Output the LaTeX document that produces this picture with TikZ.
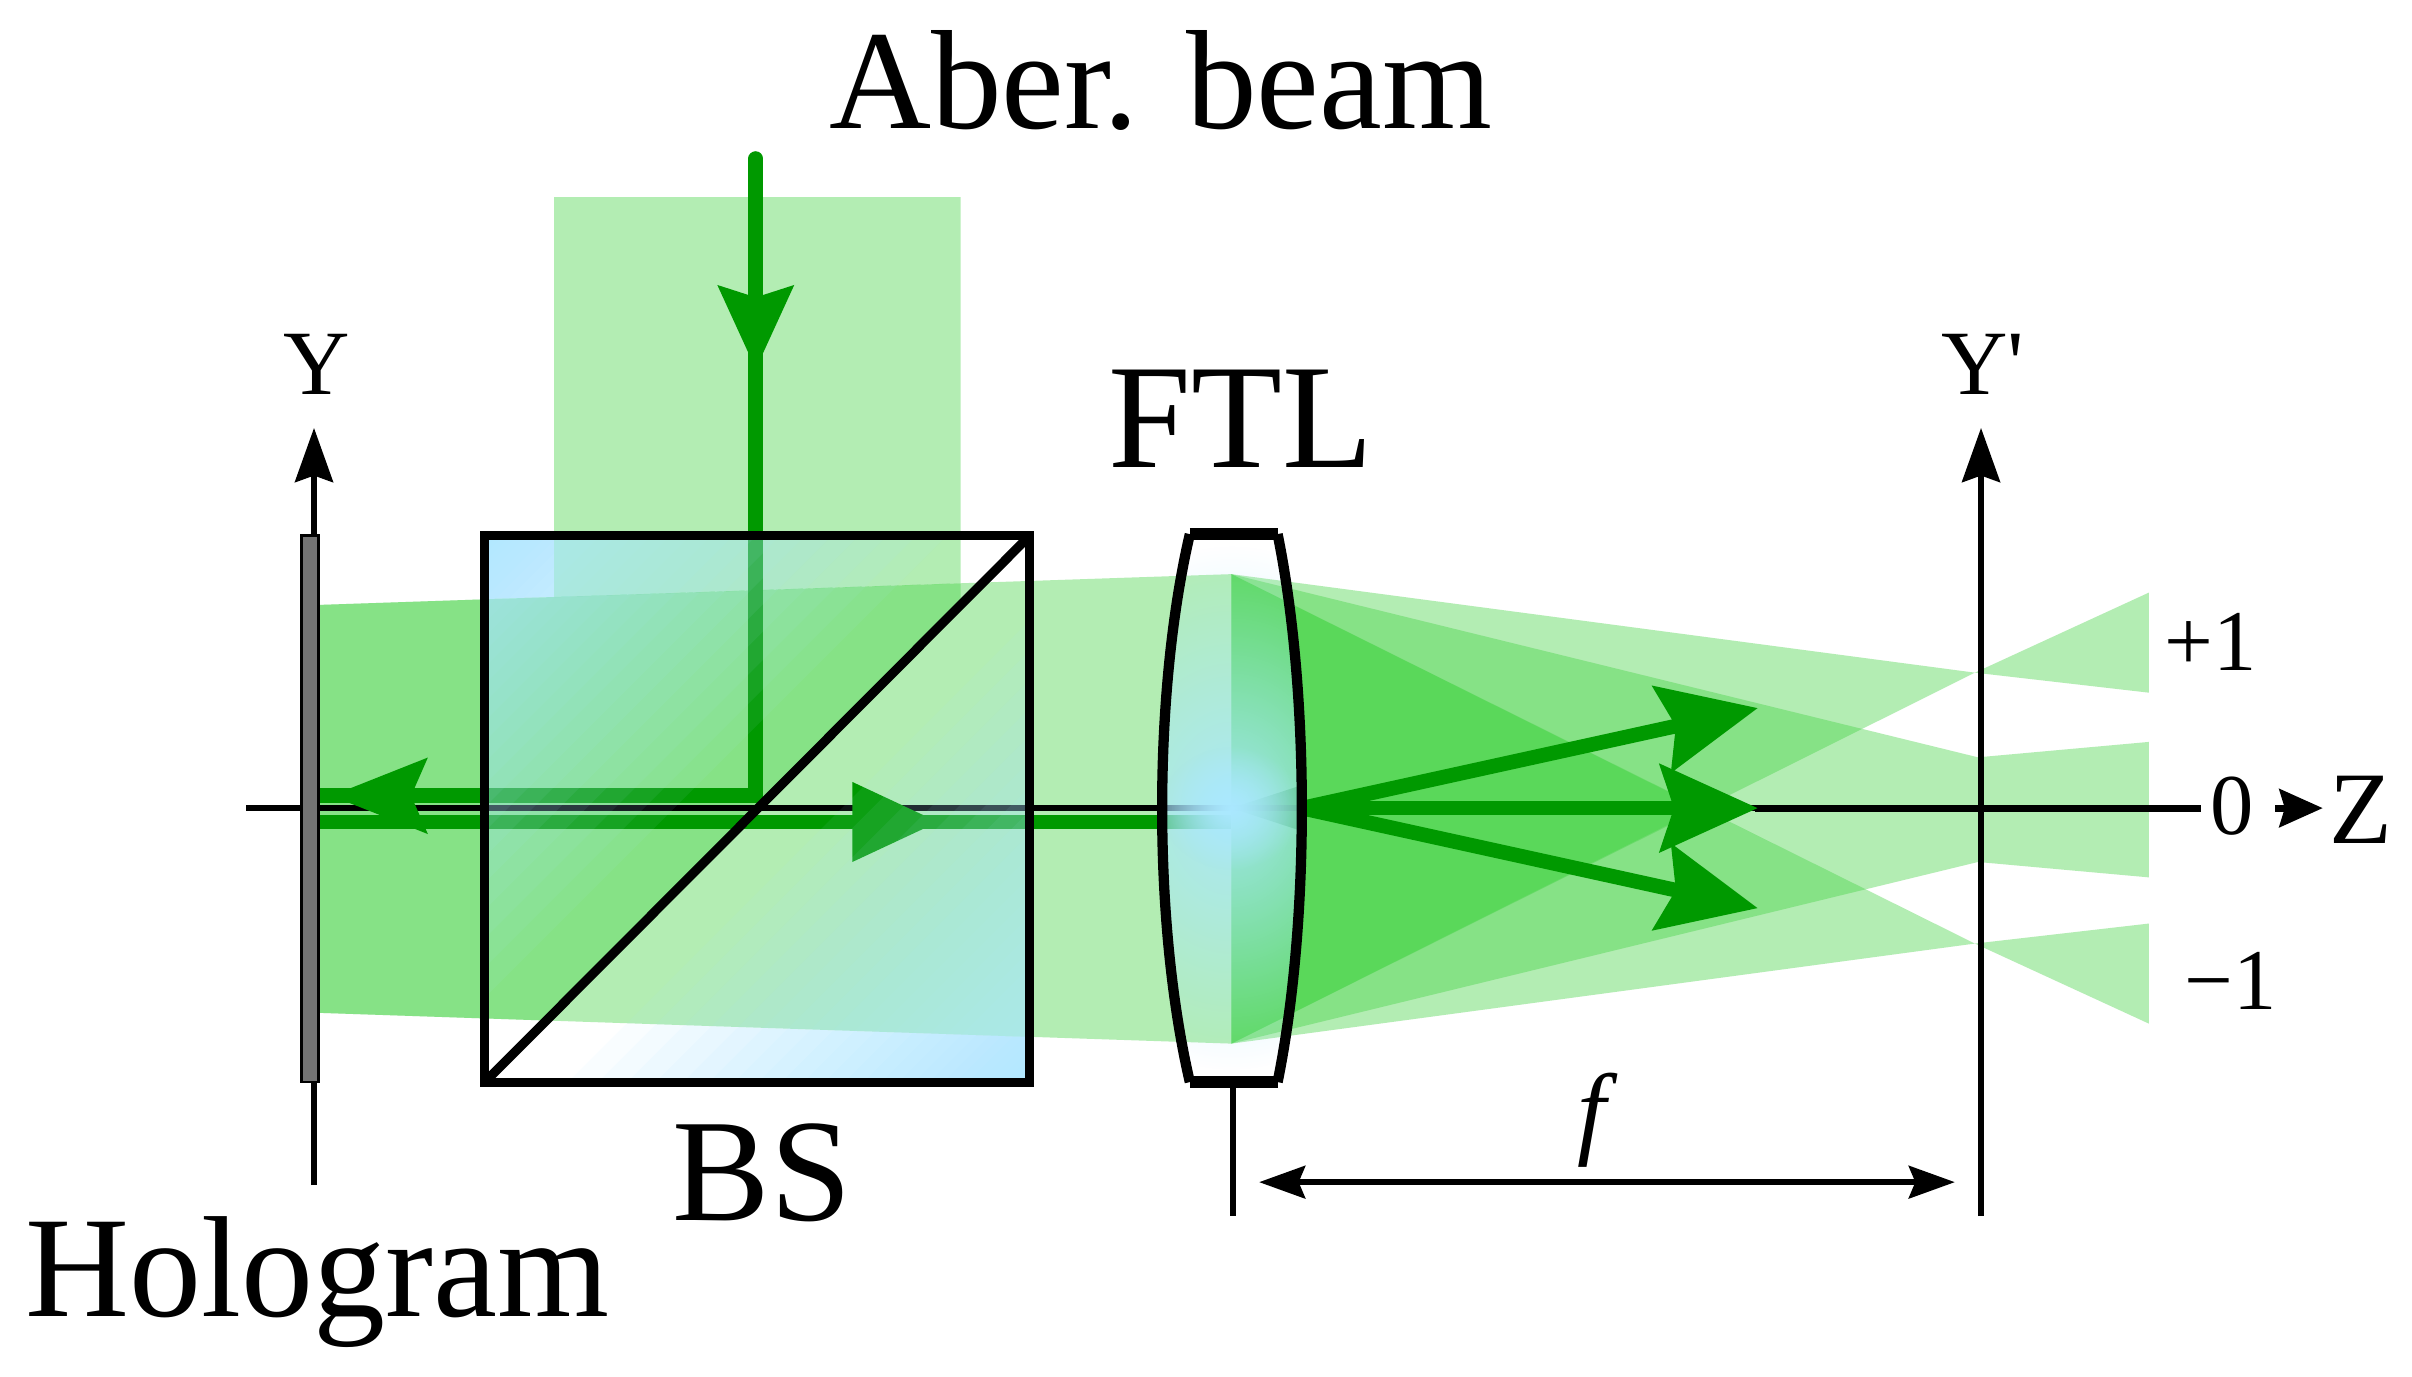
\documentclass[tikz,border=0pt]{standalone}
\usepackage{fontspec}
\setmainfont{Liberation Serif}[Ligatures=TeXOff]
\usetikzlibrary{arrows.meta,fadings}
\definecolor{bm}{RGB}{67,210,67}
\definecolor{core}{RGB}{40,210,40}
\definecolor{gl}{RGB}{0,153,0}
\definecolor{lb}{RGB}{170,232,255}
\tikzfading[name=glowfade,inner color=transparent!0,outer color=transparent!100]
\tikzfading[name=glassfade,inner color=transparent!10,outer color=transparent!100]
\tikzset{
  beam/.style={fill=bm,fill opacity=0.4,draw=none},
  glass/.style={fill=lb,fill opacity=0.07,draw=none},
  gline/.style={draw=gl,line width=2.7pt},
  garrow/.style={gline,-{Stealth[length=18pt,width=16pt,inset=2.5pt]}},
  axisline/.style={draw=black,line width=1.1pt},
  axisarrow/.style={axisline,-{Stealth[length=10pt,width=7pt,inset=1.2pt]}},
  solid box/.style={draw=black,line width=1.7pt,line join=miter},
  lbl/.style={inner sep=0pt,text=black,font=\fontsize{#1}{#1}\selectfont},
  lens outline/.style={draw=black,line width=1.9pt},
}
\begin{document}
\begin{tikzpicture}[x=0.01cm,y=-0.01cm]
\useasboundingbox (0,0) rectangle (1567,894);
\fill[white] (0,0) rectangle (1567,894);
% named points
\coordinate (cubeTL) at (315,348);
\coordinate (cubeTR) at (669,348);
\coordinate (cubeBR) at (669,703);
\coordinate (cubeBL) at (315,703);
\coordinate (lensTop) at (800,373);
\coordinate (lensBot) at (800,678);
\coordinate (holT) at (207,393);
\coordinate (holB) at (207,658);
\coordinate (apP) at (1283,437);
\coordinate (apM) at (1283,613);
\coordinate (ap0T) at (1285,492);
\coordinate (ap0B) at (1285,560);
% beams
\path[beam] (holT)--(lensTop)--(lensBot)--(holB)--cycle;
\path[beam] (holT)--(624,379)--(624,394)--(355,663)--(holB)--cycle;
\path[beam] (360,128)--(624,128)--(624,379)--(360,388)--cycle;
\path[beam] (lensTop)--(apP)--(lensBot)--cycle;
\path[beam] (lensTop)--(apM)--(lensBot)--cycle;
\path[beam] (lensTop)--(ap0T)--(1396,482)--(1396,570)--(ap0B)--(lensBot)--cycle;
\path[beam] (apP)--(1396,385)--(1396,450)--cycle;
\path[beam] (apM)--(1396,600)--(1396,665)--cycle;
\path[fill=core,fill opacity=0.25] (lensTop)--(1105,525)--(lensBot)--cycle;
% axis
\coordinate (zL) at (160,525);
\coordinate (zR) at (1140,525);
\coordinate (zE) at (1430,525);
\draw[axisline] (zL)--(zR);
\draw[draw=black,line width=1.3pt] (zR)--(zE);
% green rays
\coordinate (gTop) at (491,103);
\coordinate (gMid) at (491,240);
\coordinate (gCor) at (491,517);
\coordinate (gHol) at (207,517);
\coordinate (gLow) at (207,534);
\coordinate (gLens) at (800,534);
\draw[garrow,-{Stealth[length=15.3pt,width=13.6pt,inset=2pt]},line cap=round] (gTop)--(gMid);
\draw[gline,line join=miter] (491,228)--(gCor)--(gHol);
\draw[gline,-{Stealth[length=17.6pt,width=13.6pt,inset=2.8pt]}] (gCor)--(215,517);
\draw[gline] (gLow)--(gLens);
\draw[gline,-{Stealth[length=16pt,width=14pt,inset=0pt]}] (540,534)--(610,534);
% right rays
\coordinate (rC) at (800,525);
\coordinate (rS) at (846,525);
\coordinate (rP) at (1142,460);
\coordinate (r0) at (1142,525);
\coordinate (rM) at (1142,590);
\path[fill=gl,fill opacity=0.8] (rC)--(rS|-0,510)--(rS|-0,540)--cycle;
\draw[garrow] (rS)--(rP);
\draw[garrow] (rS)--(r0);
\draw[garrow] (rS)--(rM);
% glass of the cube, laid over the beams: stacked faint triangles from two corners
\foreach \i in {1,...,30} {
  \pgfmathsetmacro\legL{300*(\i/30)^2}
  \fill[glass] (cubeTL) -- ++(\legL,0) -- ++(-\legL,\legL) -- cycle;
  \fill[glass] (cubeBR) -- ++(-\legL,0) -- ++(\legL,-\legL) -- cycle;
}
% glass of the lens, laid over the beams
\begin{scope}
\clip (773,347) -- (830,347) .. controls (851,450) and (851,600) .. (830,703) -- (773,703) .. controls (749,600) and (749,450) .. (773,347) -- cycle;
\fill[lb,path fading=glassfade] (800,525) ellipse (130 and 170);
\fill[lb,path fading=glowfade] (800,525) ellipse (46 and 40);
\end{scope}
% cube outlines
\draw[solid box] (cubeTL) rectangle (cubeBR);
\draw[solid box] (cubeBL)--(cubeTR);
% lens outline
\draw[lens outline] (830,347) .. controls (851,450) and (851,600) .. (830,703);
\draw[lens outline] (773,347) .. controls (749,450) and (749,600) .. (773,703);
\draw[lens outline,line width=2.1pt] (773,347)--(830,347);
\draw[lens outline,line width=2.1pt] (773,703)--(830,703);
% hologram and vertical axes
\coordinate (yB) at (204,770);
\coordinate (yT) at (204,278);
\draw[axisarrow] (yB)--(yT);
\draw[draw=black,line width=0.5pt,fill=black!55] (196,348) rectangle (207,703);
\coordinate (ypB) at (1287,790);
\coordinate (ypT) at (1287,278);
\draw[axisarrow] (ypB)--(ypT);
\coordinate (stemT) at (801,703);
\coordinate (stemB) at (801,790);
\draw[axisline] (stemT)--(stemB);
\coordinate (fL) at (818,768);
\coordinate (fR) at (1270,768);
\draw[axisline,{Stealth[length=8.5pt,width=6pt,inset=1.2pt]}-{Stealth[length=8.5pt,width=6pt,inset=1.2pt]}] (fL)--(fR);
\coordinate (z0) at (1478,525);
\coordinate (zZ) at (1509,525);
\draw[axisline,line width=1.3pt,-{Stealth[length=8pt,width=7pt,inset=1pt]}] (z0)--(zZ);
% labels
\node[lbl=26.1] (aber) at (754,52) {Aber. beam};
\node[lbl=17] (ly) at (206,237) {Y};
\node[lbl=17] (lyp) at (1288,237) {Y'};
\node[lbl=27.5] (ftl) at (806,272) {FTL};
\node[lbl=27] (bs) at (495,762) {BS};
\node[lbl=26.6] (holo) at (206,833) {Hologram};
\node[lbl=16] (p1) at (1436,417) {+1};
\node[lbl=16] (n0) at (1450,524) {0};
\node[lbl=19] (nz) at (1534,526) {Z};
\node[lbl=16] (m1) at (1449,637) {−1};
\node[lbl=19] (ff) at (1034,728) {\itshape f};
\end{tikzpicture}
\end{document}
